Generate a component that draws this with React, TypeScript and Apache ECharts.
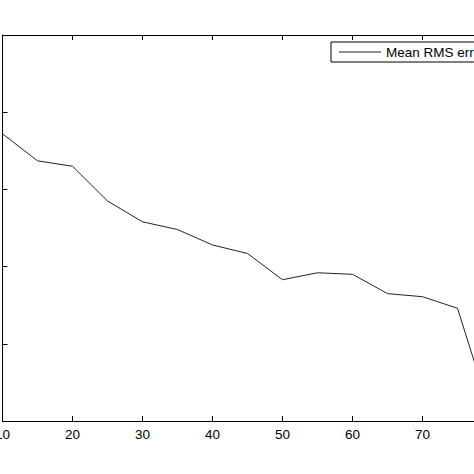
import React, { useEffect, useRef } from "react";
import * as echarts from "echarts";

const xValues = [10, 15, 20, 25, 30, 35, 40, 45, 50, 55, 60, 65, 70, 75, 80];
const rmsError = [3.72, 3.37, 3.3, 2.85, 2.58, 2.48, 2.28, 2.17, 1.83, 1.92, 1.9, 1.65, 1.61, 1.46, 0.02];
const seriesName = "Mean RMS error";

const OFFSET = 60;

export default function App() {
  const ref = useRef<HTMLDivElement>(null);
  useEffect(() => {
    if (!ref.current) return;
    const chart = echarts.init(ref.current, null, { renderer: "svg" });
    const font = "'Liberation Sans', Arial, Helvetica, sans-serif";
    const axisCommon = {
      axisLine: { show: true, onZero: false, lineStyle: { color: "#000", width: 1 } },
      axisTick: { show: true, inside: true, length: 5, lineStyle: { color: "#000", width: 1 } },
      splitLine: { show: false },
    };
    chart.setOption({
      animation: false,
      backgroundColor: "#fff",
      grid: { left: OFFSET + 2.5, top: 35, width: 490, height: 386, containLabel: false },
      legend: {
        data: [{ name: seriesName, icon: "path://M0,0H42V1H0Z" }],
        left: OFFSET + 331,
        top: 42,
        orient: "horizontal",
        borderColor: "#000",
        borderWidth: 1,
        padding: [3, 8, 3, 8],
        itemWidth: 42,
        itemHeight: 1,
        itemGap: 4,
        textStyle: { fontFamily: font, fontSize: 13.5, color: "#000" },
        backgroundColor: "#fff",
      },
      xAxis: [
        {
          type: "value",
          min: 10,
          max: 80,
          interval: 10,
          position: "bottom",
          ...axisCommon,
          axisLabel: { show: true, margin: 6, fontFamily: font, fontSize: 13.5, color: "#000" },
        },
        {
          type: "value",
          min: 10,
          max: 80,
          interval: 10,
          position: "top",
          ...axisCommon,
          axisLabel: { show: false },
        },
      ],
      yAxis: [
        {
          type: "value",
          min: 0,
          max: 5,
          interval: 1,
          position: "left",
          ...axisCommon,
          axisLabel: { show: false },
        },
        {
          type: "value",
          min: 0,
          max: 5,
          interval: 1,
          position: "right",
          ...axisCommon,
          axisLabel: { show: false },
        },
      ],
      series: [
        {
          name: seriesName,
          type: "line",
          data: xValues.map((x, i) => [x, rmsError[i]]),
          symbol: "none",
          showSymbol: false,
          lineStyle: { color: "#222", width: 1 },
          itemStyle: { color: "#222" },
        },
      ],
    });
    return () => chart.dispose();
  }, []);
  return (
    <div
      style={{
        position: "fixed",
        left: 0,
        top: 0,
        width: 474,
        height: 474,
        overflow: "hidden",
        background: "#fff",
      }}
    >
      <div
        ref={ref}
        style={{ position: "absolute", left: -OFFSET, top: 0, width: 600, height: 474 }}
      />
    </div>
  );
}
